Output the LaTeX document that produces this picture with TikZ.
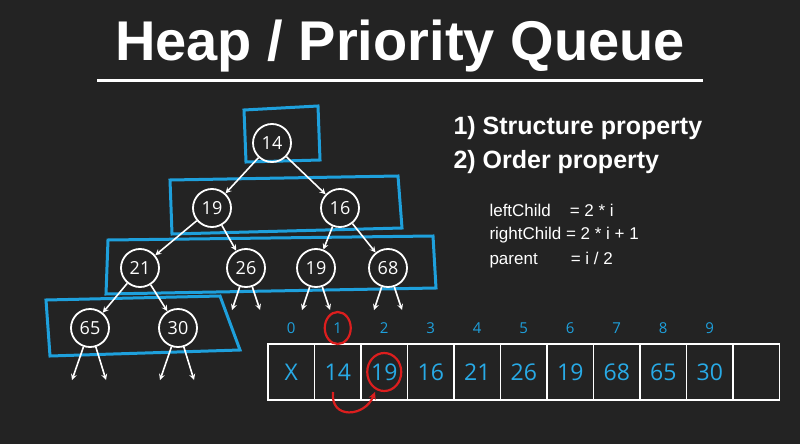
\documentclass[tikz,border=0pt]{standalone}
\usepackage{fontspec}
\usetikzlibrary{calc}
\setmainfont{Liberation Sans}
\newfontfamily\hand{Open Sans}
\begin{document}
\begin{tikzpicture}[x=1pt,y=-1pt,
 circ/.style={circle,draw=white,line width=1.8pt,minimum size=38pt,inner sep=0pt,text=white,font=\hand\fontsize{18}{18}\selectfont},
 bluebox/.style={draw={rgb,255:red,30;green,160;blue,220},line width=3pt},
 arr/.style={draw=white,line width=1.6pt,-stealth},
 cell/.style={draw=white,line width=1.6pt,minimum width=46.5pt,minimum height=56pt,inner sep=0pt,text={rgb,255:red,40;green,170;blue,230},font=\hand\fontsize{23}{23}\selectfont},
 idx/.style={text={rgb,255:red,30;green,160;blue,220},font=\hand\fontsize{15}{15}\selectfont},
 redc/.style={draw={rgb,255:red,220;green,30;blue,30},line width=2.2pt}]
\fill[fill={rgb,255:red,35;green,35;blue,35}] (0,0) rectangle (800,444);
\node[text=white,font=\bfseries\fontsize{56}{56}\selectfont] (title) at (400,46) {Heap / Priority Queue};
\draw[white,line width=3pt] (97,80) -- (703,80);
\node[text=white,anchor=west,font=\bfseries\fontsize{25}{25}\selectfont] (p1) at (450,128) {1) Structure property};
\node[text=white,anchor=west,font=\bfseries\fontsize{25}{25}\selectfont] (p2) at (450,162) {2) Order property};
\node[text=white,anchor=west,font=\fontsize{17}{17}\selectfont] (f1) at (486,210) {leftChild \ \ \ = 2 * i};
\node[text=white,anchor=west,font=\fontsize{17}{17}\selectfont] (f2) at (486,235) {rightChild = 2 * i + 1};
\node[text=white,anchor=west,font=\fontsize{17}{17}\selectfont] (f3) at (486,260) {parent \ \ \ \ \ \ = i / 2};
% blue boxes
\draw[bluebox] (244,110) -- (318,106) -- (320,160) -- (246,162) -- cycle;
\draw[bluebox] (170,180) -- (398,176) -- (402,228) -- (172,234) -- cycle;
\draw[bluebox] (108,240) -- (433,236) -- (436,288) -- (106,294) -- cycle;
\draw[bluebox] (46,300) -- (220,296) -- (240,350) -- (50,356) -- cycle;
% nodes
\node[circ] (n14) at (272,143) {14};
\node[circ] (n19) at (212,208) {19};
\node[circ] (n16) at (340,208) {16};
\node[circ] (n21) at (140,268) {21};
\node[circ] (n26) at (246,268) {26};
\node[circ] (n19b) at (316,268) {19};
\node[circ] (n68) at (388,268) {68};
\node[circ] (n65) at (90,328) {65};
\node[circ] (n30) at (178,328) {30};
\draw[arr] (n14) -- (n19);
\draw[arr] (n14) -- (n16);
\foreach \a/\b in {n19/n21,n19/n26,n16/n19b,n16/n68}{\draw[arr] (\a) -- (\b);}
\foreach \n in {n26,n19b,n68}{
 \coordinate (\n l) at ($(\n)+(-14,42)$);
 \coordinate (\n r) at ($(\n)+(14,42)$);
 \draw[arr] (\n) -- (\n l); \draw[arr] (\n) -- (\n r);}
\foreach \n in {n65,n30}{
 \coordinate (\n l) at ($(\n)+(-18,52)$);
 \coordinate (\n r) at ($(\n)+(16,52)$);
 \draw[arr] (\n) -- (\n l); \draw[arr] (\n) -- (\n r);}
\draw[arr] (n21) -- (n65);
\draw[arr] (n21) -- (n30);
% array
\foreach \i/\v in {0/X,1/14,2/19,3/16,4/21,5/26,6/19,7/68,8/65,9/30,10/{}}{
 \node[cell] (c\i) at (291.25+46.5*\i,372) {\v};}
\foreach \i in {0,...,9}{\node[idx] (i\i) at (291.25+46.5*\i,328) {\i};}
\draw[redc] (i1) ellipse (13pt and 16pt);
\draw[redc] (c2) ellipse (17pt and 19pt);
\coordinate (rs) at (333,392);
\draw[redc,-stealth] (rs) .. controls (330,420) and (365,417) .. (375,392);
\end{tikzpicture}
\end{document}
